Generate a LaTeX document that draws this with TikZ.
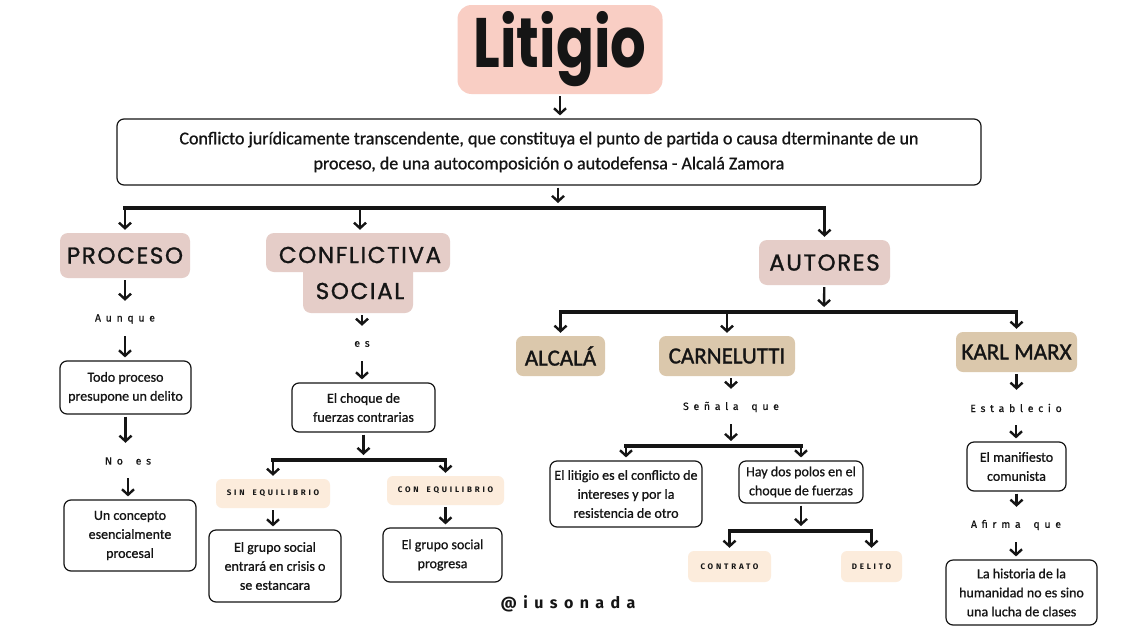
\documentclass[tikz,border=0pt]{standalone}
\usepackage{fontspec}
\setmainfont[FakeBold=0.9]{Carlito}
\newfontfamily\titlefont[FakeStretch=0.8]{Poppins}
\newfontfamily\headfont[LetterSpace=7,FakeBold=1.2]{Poppins}
\newfontfamily\namefont[FakeBold=1.4]{Carlito}
\newfontfamily\spacedfont[LetterSpace=45,WordSpace=1.7,FakeBold=0.6]{Fira Sans}
\newfontfamily\tagfont[LetterSpace=35,WordSpace=1.7]{Fira Sans}
\newfontfamily\handlefont[LetterSpace=40]{Fira Sans}
\usetikzlibrary{arrows.meta}
\definecolor{titlepink}{HTML}{F9CEC4}
\definecolor{catpink}{HTML}{E5CDC8}
\definecolor{tan}{HTML}{DBC8AC}
\definecolor{beige}{HTML}{FCECDC}
\definecolor{ink}{HTML}{151515}
\tikzset{
  titlebox/.style={fill=titlepink, rounded corners=14pt, inner sep=0pt, text=ink,
    font=\titlefont\bfseries\fontsize{70}{70}\selectfont},
  box/.style={draw=ink, line width=1.2pt, rounded corners=7pt, align=center, inner sep=0pt,
    text=ink, font=\fontsize{14}{19}\selectfont},
  cat/.style={fill=catpink, rounded corners=8pt, inner sep=0pt, text=ink, align=center,
    font=\headfont\fontsize{23}{36}\selectfont},
  namebox/.style={fill=tan, rounded corners=7pt, inner sep=0pt, text=ink,
    font=\namefont\fontsize{23}{26}\selectfont},
  tagbox/.style={fill=beige, rounded corners=6pt, inner sep=0pt, text=ink,
    font=\tagfont\bfseries\fontsize{8}{10}\selectfont},
  lbl/.style={inner sep=0pt, minimum height=30pt, text=ink,
    font=\spacedfont\fontsize{10.5}{12}\selectfont},
  arr/.style={draw=ink, line width=2.4pt, -{Straight Barb[length=5.5pt,width=12pt]},
    shorten <=2pt, shorten >=3pt},
  drop/.style={arr, shorten <=0pt},
  tobus/.style={arr, shorten >=5pt},
  busline/.style={draw=ink, line width=3.8pt, line cap=rect},
}
\begin{document}
\begin{tikzpicture}[x=1pt,y=-1pt]
\useasboundingbox[fill=white] (0,0) rectangle (1137,640);

% title and definition
\node[titlebox, minimum width=205, minimum height=89] (title) at (560,49.5) {Litigio};
\node[box, minimum width=864, minimum height=66, font=\fontsize{18}{25}\selectfont] (def) at (549,152)
  {Conflicto jurídicamente transcendente, que constituya el punto de partida o causa dterminante de un\\
   proceso, de una autocomposición o autodefensa - Alcalá Zamora};
\coordinate (b1) at (558,208);

% categories
\node[cat, minimum width=130, minimum height=45] (proceso) at (125,255.5) {PROCESO};
\fill[catpink, rounded corners=8pt] (266,233) rectangle (450,272);
\fill[catpink, rounded corners=8pt] (303,262) rectangle (413,313);
\node[cat, fill=none, minimum width=130, minimum height=80] (conf) at (360,273) {CONFLICTIVA\\SOCIAL};
\node[cat, minimum width=131, minimum height=45] (autores) at (824.5,262.5) {AUTORES};

% proceso branch
\node[lbl] (aunque) at (125,319) {Aunque};
\node[box, minimum width=131, minimum height=53] (todo) at (125.5,387.5) {Todo proceso\\presupone un delito};
\node[lbl] (noes) at (128,461) {No es};
\node[box, minimum width=132, minimum height=71] (concepto) at (130,535.5) {Un concepto\\esencialmente\\procesal};

% conflictiva branch
\node[lbl] (es) at (362,344) {es};
\node[box, minimum width=143, minimum height=49] (choque) at (363.5,407.5) {El choque de\\fuerzas contrarias};
\coordinate (b2) at (365,460);
\node[tagbox, minimum width=114, minimum height=29] (sin) at (273,493.5) {SIN EQUILIBRIO};
\node[tagbox, minimum width=117, minimum height=29] (con) at (445.5,490.5) {CON EQUILIBRIO};
\node[box, minimum width=132, minimum height=72] (crisis) at (275,566) {El grupo social\\entrará en crisis o\\se estancara};
\node[box, minimum width=119, minimum height=54] (progresa) at (442.5,555) {El grupo social\\progresa};

% autores branch
\coordinate (b3) at (824,312);
\node[namebox, minimum width=89, minimum height=40] (alcala) at (560.5,356) {ALCALÁ};
\node[namebox, minimum width=136, minimum height=40] (carn) at (727,356) {CARNELUTTI};
\node[namebox, minimum width=121, minimum height=40] (marx) at (1016.5,352) {KARL MARX};
\node[lbl] (senala) at (731,407) {Señala que};
\coordinate (b4) at (731,446);
\node[box, minimum width=152, minimum height=66] (litigio) at (626,494) {El litigio es el conflicto de\\intereses y por la\\resistencia de otro};
\node[box, minimum width=124, minimum height=42] (polos) at (801,482) {Hay dos polos en el\\choque de fuerzas};
\coordinate (b5) at (800,531);
\node[tagbox, minimum width=83, minimum height=31] (contrato) at (729.5,566.5) {CONTRATO};
\node[tagbox, minimum width=61, minimum height=31] (delito) at (871.5,566.5) {DELITO};
\node[lbl] (estab) at (1016,408) {Establecio};
\node[box, minimum width=99, minimum height=49] (manif) at (1016.5,466.5) {El manifiesto\\comunista};
\node[lbl] (afirma) at (1016,525) {Afirma que};
\node[box, minimum width=151, minimum height=65] (historia) at (1021.5,592.5) {La historia de la\\humanidad no es sino\\una lucha de clases};

\node[inner sep=0pt, text=ink, font=\handlefont\bfseries\fontsize{16}{18}\selectfont] (handle) at (568,604) {@iusonada};

% connectors
\draw[arr] (title) -- (title |- def.north);
\draw[tobus] (b1 |- def.south) -- (b1);
\draw[busline] (proceso |- b1) -- (autores |- b1);
\draw[drop] (proceso |- b1) -- (proceso);
\draw[drop] (conf |- b1) -- (conf.north);
\draw[drop] (autores |- b1) -- (autores);

\draw[arr] (proceso) -- (proceso |- aunque.north);
\draw[arr] (aunque) -- (aunque |- todo.north);
\draw[arr] (todo) -- (todo |- noes.north);
\draw[arr] (noes) -- (noes |- concepto.north);

\draw[arr] (es |- conf.south) -- (es);
\draw[arr] (es) -- (es |- choque.north);
\draw[tobus] (choque) -- (choque |- b2);
\draw[busline] (sin |- b2) -- (con |- b2);
\draw[drop] (sin |- b2) -- (sin);
\draw[drop] (con |- b2) -- (con);
\draw[arr] (sin) -- (sin |- crisis.north);
\draw[arr] (con) -- (con |- progresa.north);

\draw[tobus] (autores) -- (b3);
\draw[busline] (alcala |- b3) -- (marx |- b3);
\draw[drop] (alcala |- b3) -- (alcala);
\draw[drop] (carn |- b3) -- (carn);
\draw[drop] (marx |- b3) -- (marx);

\draw[arr] (senala |- carn.south) -- (senala);
\draw[tobus] (senala) -- (b4);
\draw[busline] (litigio |- b4) -- (polos |- b4);
\draw[drop] (litigio |- b4) -- (litigio);
\draw[drop] (polos |- b4) -- (polos);
\draw[tobus] (polos) -- (polos |- b5);
\draw[busline] (contrato |- b5) -- (delito |- b5);
\draw[drop] (contrato |- b5) -- (contrato);
\draw[drop] (delito |- b5) -- (delito);

\draw[arr] (marx) -- (marx |- estab.north);
\draw[arr] (estab) -- (estab |- manif.north);
\draw[arr] (manif) -- (manif |- afirma.north);
\draw[arr] (afirma) -- (afirma |- historia.north);
\end{tikzpicture}
\end{document}
